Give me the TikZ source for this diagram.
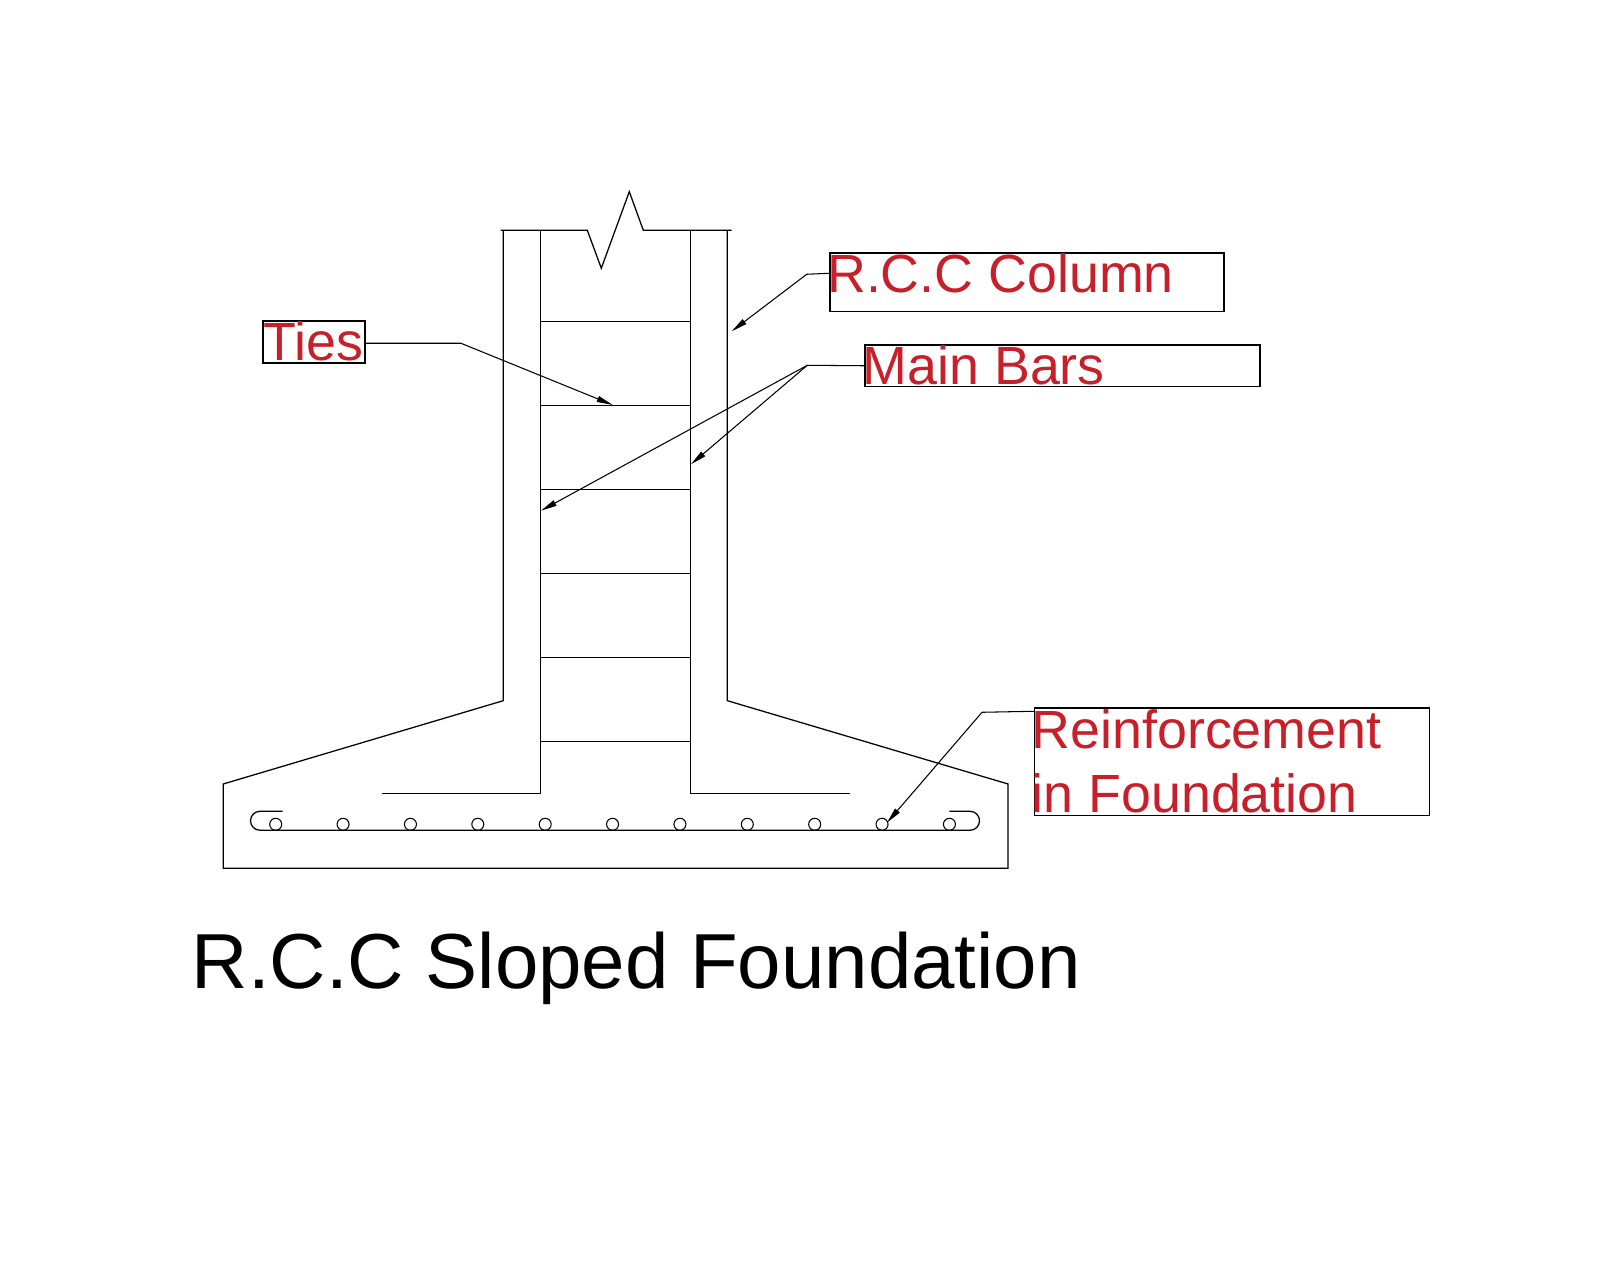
\documentclass[tikz,border=0pt]{standalone}
\usepackage{fontspec}
\setmainfont{Liberation Sans}
\usepackage{tikz}
\usetikzlibrary{arrows.meta}
\definecolor{lblred}{RGB}{200,32,42}
\tikzset{
	drawing/.style={line width=0.36pt,line join=miter},
	lblbox/.style={draw,line width=0.36pt,inner sep=0pt,anchor=north west},
	lbltext/.style={text=lblred,font=\fontsize{15.3}{15.3}\selectfont,inner sep=0pt,anchor=base west},
	lead/.style={line width=0.3pt,-{Stealth[length=1.6mm,width=0.6mm,inset=0pt]}},
}
\begin{document}
\begin{tikzpicture}
	\useasboundingbox (0,0) rectangle (16,12.8);
	% column
	\draw[drawing] (5.007,10.497) -- (5.873,10.497) -- (6.013,10.117) -- (6.293,10.883) -- (6.433,10.497) -- (7.317,10.497);
	\draw[drawing] (5.033,10.497) -- (5.033,5.793) -- (2.233,4.96) -- (2.233,4.117) -- (10.08,4.117) -- (10.08,4.96) -- (7.273,5.793) -- (7.273,10.497);
	\draw[drawing] (5.403,10.497) -- (5.403,4.867) -- (3.82,4.867);
	\draw[drawing] (6.907,10.497) -- (6.907,4.867) -- (8.497,4.867);
	% ties
	\foreach \y in {9.587,8.747,7.907,7.067,6.227,5.387}
		\draw[drawing] (5.403,\y) -- (6.907,\y);
	% bottom bar
	\draw[drawing] (2.827,4.687) -- (2.6,4.687) arc[start angle=90,end angle=270,radius=0.095] -- (9.7,4.497) arc[start angle=-90,end angle=90,radius=0.095] -- (9.494,4.687);
	\foreach \i in {0,...,10}
		\node[circle,draw,line width=0.3pt,minimum size=0.12cm,inner sep=0pt] (bar\i) at ({2.757+0.6737*\i},4.557) {};
	% labels
	\node[lblbox,minimum width=3.94cm,minimum height=0.587cm] (colbox) at (8.293,10.277) {};
	\node[lbltext] (coltext) at (8.265,9.873) {R.C.C Column};
	\node[lblbox,minimum width=3.95cm,minimum height=0.417cm] (mainbox) at (8.643,9.357) {};
	\node[lbltext] (maintext) at (8.62,8.95) {Main Bars};
	\node[lblbox,minimum width=1.02cm,minimum height=0.42cm] (tiesbox) at (2.623,9.597) {};
	\node[lbltext] (tiestext) at (2.63,9.19) {Ties};
	\node[lblbox,minimum width=3.945cm,minimum height=1.077cm] (reinfbox) at (10.34,5.727) {};
	\node[lbltext] (reinftext) at (10.31,5.31) {Reinforcement};
	\node[lbltext] (reinftextb) at (10.31,4.673) {in Foundation};
	\node[anchor=base west,inner sep=0pt,font=\fontsize{22.2}{22.2}\selectfont] (title) at (1.91,2.91) {R.C.C Sloped Foundation};
	% leaders
	\coordinate (colstart) at (8.293,10.067);
	\coordinate (colknee) at (8.067,10.057);
	\coordinate (coltip) at (7.317,9.487);
	\draw[lead] (colstart) -- (colknee) -- (coltip);
	\coordinate (tiesstart) at (3.643,9.367);
	\coordinate (tiesknee) at (4.61,9.367);
	\coordinate (tiestip) at (6.127,8.75);
	\draw[lead] (tiesstart) -- (tiesknee) -- (tiestip);
	\coordinate (mainknee) at (8.073,9.147);
	\coordinate (maintipa) at (5.41,7.693);
	\coordinate (maintipb) at (6.91,8.157);
	\draw[lead] (mainbox.west) -- (mainknee) -- (maintipa);
	\draw[lead] (mainknee) -- (maintipb);
	\coordinate (reinfstart) at (10.34,5.687);
	\coordinate (reinfknee) at (9.82,5.677);
	\coordinate (reinftip) at (8.87,4.573);
	\draw[lead] (reinfstart) -- (reinfknee) -- (reinftip);
\end{tikzpicture}
\end{document}
